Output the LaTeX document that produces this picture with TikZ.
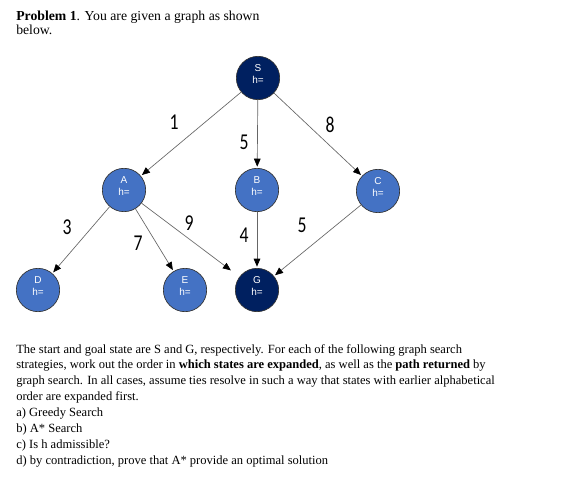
\documentclass[tikz,border=0pt]{standalone}
\usepackage{fontspec}
\setmainfont{Liberation Serif}
\newfontfamily\nodefont{Liberation Sans}
\newfontfamily\weightfont[FakeStretch=0.78]{Carlito}
\usetikzlibrary{arrows.meta}
\definecolor{navyblue}{RGB}{0,32,96}
\definecolor{stateblue}{RGB}{68,114,196}

\begin{document}
\begin{tikzpicture}[x=0.75pt, y=-0.75pt,
    state/.style={circle, draw=black!80, line width=0.5pt, minimum size=32.5pt, inner sep=0pt},
    tag/.style={text=white, font=\nodefont\fontsize{7.5}{9.5}\selectfont, align=center, yshift=3pt},
    arrow/.style={draw=black!60, line width=0.5pt, -{Triangle[length=6pt,width=5pt,color=black]}, shorten >=1pt},
    weight/.style={font=\weightfont\fontsize{17}{17}\selectfont, inner sep=0pt},
    prose/.style={font=\fontsize{9.4}{11.9}\selectfont, inner sep=0pt, align=left}
]
    \useasboundingbox (0,0) rectangle (574,477);

    % Problem statement
    \node[prose, font=\fontsize{10.3}{10.6}\selectfont, anchor=north west] (head) at (16,11) {\textbf{Problem 1}. You are given a graph as shown\\below.};

    % States
    \node[state, fill=navyblue, label={[tag]center:S\\h=}] (S) at (258,78) {};
    \node[state, fill=stateblue, label={[tag]center:A\\h=}] (A) at (124,190) {};
    \node[state, fill=stateblue, label={[tag]center:B\\h=}] (B) at (257,190) {};
    \node[state, fill=stateblue, label={[tag]center:C\\h=}] (C) at (378,191) {};
    \node[state, fill=stateblue, label={[tag]center:D\\h=}] (D) at (38,290) {};
    \node[state, fill=stateblue, label={[tag]center:E\\h=}] (E) at (185,290) {};
    \node[state, fill=navyblue, label={[tag]center:G\\h=}] (G) at (257,290) {};

    % Edges
    \draw[arrow] (S) -- (A);
    \draw[arrow] (S) -- (B);
    \draw[arrow] (S) -- (C);
    \draw[arrow] (A) -- (D);
    \draw[arrow] (A) -- (E);
    \draw[arrow, shorten >=8pt] (A) -- (G);
    \draw[arrow] (B) -- (G);
    \draw[arrow] (C) -- (G);

    % Costs
    \node[weight] (w1) at (174,122) {1};
    \node[weight] (w2) at (244,142) {5};
    \node[weight] (w3) at (330,125) {8};
    \node[weight] (w4) at (67,227) {3};
    \node[weight] (w5) at (138,243) {7};
    \node[weight] (w6) at (189,223) {9};
    \node[weight] (w7) at (244,235) {4};
    \node[weight] (w8) at (302,225) {5};

    % Questions
    \node[prose, anchor=north west] (text) at (16,344) {The start and goal state are S and G, respectively. For each of the following graph search\\
    strategies, work out the order in \textbf{which states are expanded}, as well as the \textbf{path returned} by\\
    graph search. In all cases, assume ties resolve in such a way that states with earlier alphabetical\\
    order are expanded first.\\
    a) Greedy Search\\
    b) A* Search\\
    c) Is h admissible?\\
    d) by contradiction, prove that A* provide an optimal solution};
\end{tikzpicture}
\end{document}
